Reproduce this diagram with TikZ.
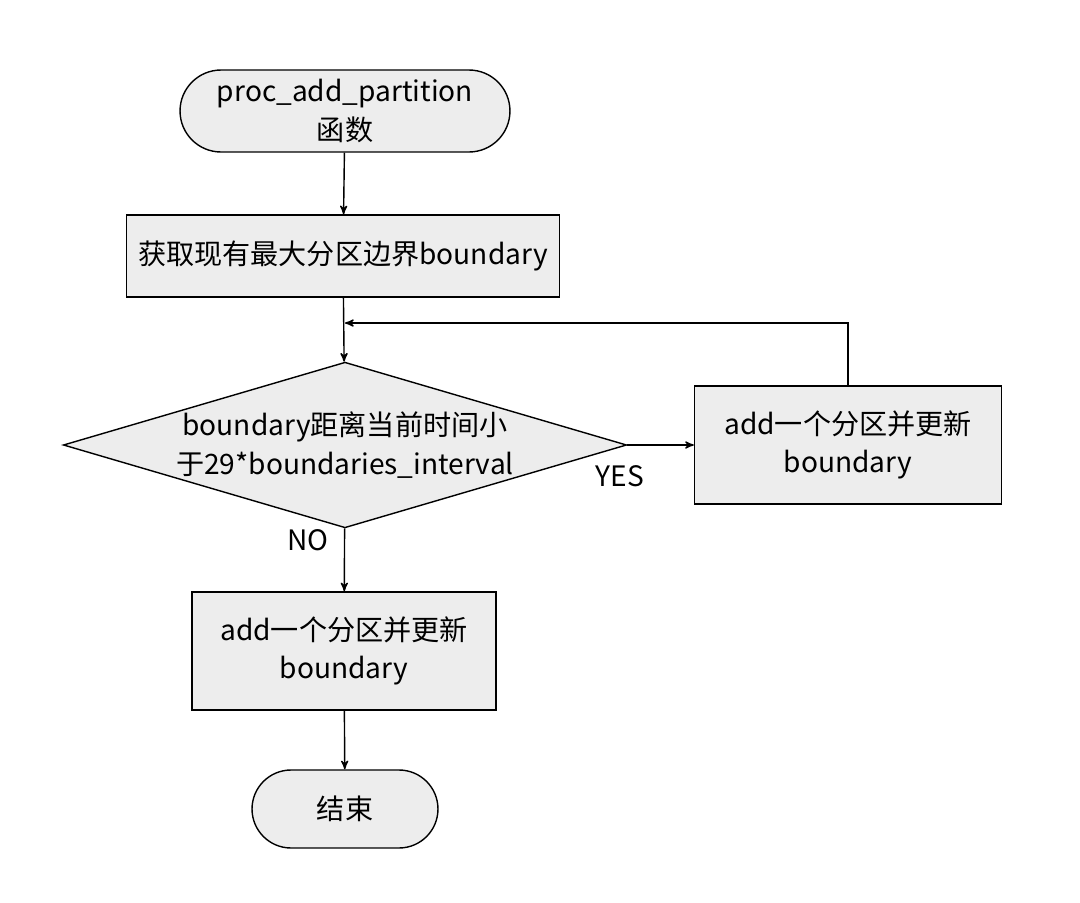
\documentclass[tikz,border=0pt]{standalone}
\usepackage{fontspec}
\setmainfont{Noto Sans CJK SC}
\usetikzlibrary{shapes.geometric,shapes.misc,positioning,arrows}

\begin{document}
\begin{tikzpicture}[x=0.02cm,y=-0.02cm]
  \tikzstyle{base}=[
    draw, thick, fill=black!7,
    font=\fontsize{16pt}{22pt}\selectfont,
    align=center, inner sep=0pt
  ]
  \tikzstyle{term}=[base, rounded rectangle]
  \tikzstyle{proc}=[base, rectangle]
  \tikzstyle{dec}=[base, diamond, aspect=3.4]
  \tikzstyle{arr}=[->, >=stealth', thick]
  \tikzstyle{lbl}=[font=\fontsize{16pt}{20pt}\selectfont]

  \useasboundingbox (0,0) rectangle (1080,903);

  \node[term, minimum width=6.6cm, minimum height=1.64cm] (start) at (345,111)
    {proc\_add\_partition\\函数};
  \node[proc, minimum width=8.66cm, minimum height=1.64cm] (fetch) at (343,256)
    {获取现有最大分区边界boundary};
  \node[dec, minimum width=10.46cm, minimum height=3.08cm] (check) at (345,445)
    {boundary距离当前时间小\\于29*boundaries\_interval};
  \node[proc, minimum width=6.14cm, minimum height=2.36cm] (addyes) at (848,445)
    {add一个分区并更新\\boundary};
  \node[proc, minimum width=6.08cm, minimum height=2.36cm] (addno) at (344,651)
    {add一个分区并更新\\boundary};
  \node[term, minimum width=3.72cm, minimum height=1.56cm] (stop) at (345,809)
    {结束};
  \coordinate (loop) at (345,323);

  \draw[arr] (start) -- (fetch);
  \draw[arr] (fetch) -- (check);
  \draw[arr] (check.east) -- (addyes.west);
  \draw[arr] (addyes.north) |- (loop);
  \draw[arr] (check) -- (addno);
  \draw[arr] (addno) -- (stop);

  \node[lbl] (yes) at (620,476) {YES};
  \node[lbl] (no) at (308,540) {NO};
\end{tikzpicture}
\end{document}
